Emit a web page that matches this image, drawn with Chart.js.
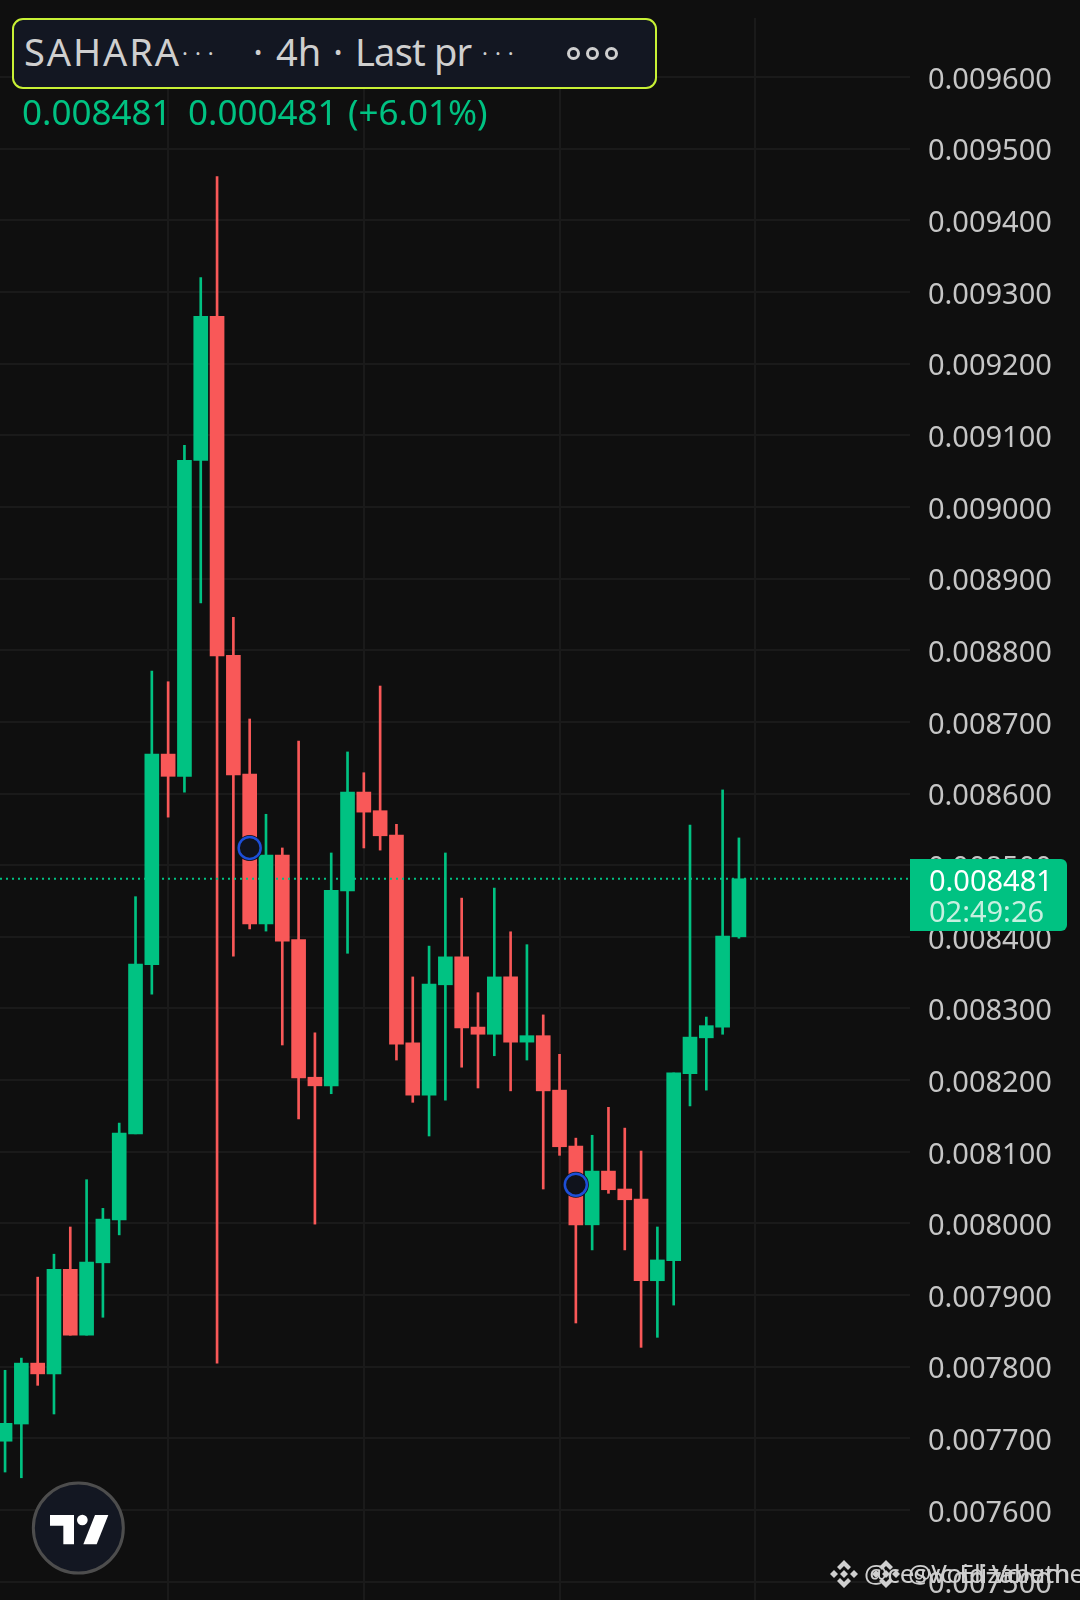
<!DOCTYPE html>
<html>
<head>
<meta charset="utf-8">
<title>SAHARA 4h</title>
<script src="https://cdn.jsdelivr.net/npm/chart.js@4"></script>
<style>
  html, body { margin: 0; padding: 0; background: #0f0f0f; }
  #wrap { position: relative; width: 1080px; height: 1600px; overflow: hidden; font-family: "Noto Sans", sans-serif; }
  #grafico { position: absolute; left: 0; top: 0; }
  .txt { position: absolute; white-space: pre; line-height: 1; }
  #caja { position: absolute; left: 12px; top: 18px; width: 641px; height: 67px; background: #131722; border: 2px solid #c8f135; border-radius: 11px; }
  #etiqueta { position: absolute; left: 910px; top: 859px; width: 157px; height: 72px; background: #00c282; border-radius: 0 6px 6px 0; }
  .punto { position: absolute; width: 7px; height: 7px; border: 3px solid #cfcfcf; border-radius: 50%; top: 47px; }
  #logo { position: absolute; left: 0; top: 1300px; }
  .marca { position: absolute; top: 1559px; }
</style>
</head>
<body>
<div id="wrap">
  <canvas id="grafico" width="1080" height="1600"></canvas>

  <div id="caja"></div>
  <div class="txt" style="left:24px;top:32px;font-size:38px;letter-spacing:1.9px;color:#cfcfcf">SAHARA</div>
  <div class="txt" style="left:182px;top:41px;font-size:22px;letter-spacing:7px;color:#cfcfcf">···</div>
  <div class="txt" style="left:253px;top:32px;font-size:38px;color:#cfcfcf">·</div>
  <div class="txt" style="left:276px;top:32px;font-size:38px;color:#cfcfcf">4h</div>
  <div class="txt" style="left:333px;top:32px;font-size:38px;color:#cfcfcf">·</div>
  <div class="txt" style="left:355px;top:32px;font-size:38px;letter-spacing:-0.8px;color:#cfcfcf">Last pr</div>
  <div class="txt" style="left:482px;top:41px;font-size:22px;letter-spacing:7px;color:#cfcfcf">···</div>
  <div class="punto" style="left:567px"></div>
  <div class="punto" style="left:586px"></div>
  <div class="punto" style="left:605px"></div>

  <div class="txt" style="left:22px;top:94px;font-size:35px;color:#00c282">0.008481</div>
  <div class="txt" style="left:188px;top:94px;font-size:35px;color:#00c282">0.000481</div>
  <div class="txt" style="left:348px;top:94px;font-size:35px;color:#00c282">(+6.01%)</div>

  <div id="etiqueta"></div>
  <div class="txt" style="left:929px;top:865px;font-size:29px;color:#ffffff">0.008481</div>
  <div class="txt" style="left:929px;top:896px;font-size:29px;color:#c6f0e0">02:49:26</div>

  <svg id="logo" width="400" height="300" viewBox="0 0 1200 900">
    <circle cx="235" cy="684" r="135" fill="#131722" stroke="#4d4d4d" stroke-width="9"/>
    <polygon points="150,645 222,645 222,733 190,733 190,677 150,677" fill="#ffffff"/>
    <circle cx="247" cy="660" r="16" fill="#ffffff"/>
    <polygon points="285,645 325,645 290,733 250,733" fill="#ffffff"/>
  </svg>

  <svg class="marca" style="left:830px" width="28" height="30" viewBox="0 0 28 30">
    <g fill="#cfcfcf">
      <polygon points="14,1 21,8 18,11 14,7 10,11 7,8"/>
      <polygon points="14,29 21,22 18,19 14,23 10,19 7,22"/>
      <polygon points="14,11 18,15 14,19 10,15"/>
      <polygon points="4,11 8,15 4,19 0,15"/>
      <polygon points="24,11 28,15 24,19 20,15"/>
    </g>
  </svg>
  <svg class="marca" style="left:872px" width="28" height="30" viewBox="0 0 28 30">
    <g fill="#cfcfcf">
      <polygon points="14,1 21,8 18,11 14,7 10,11 7,8"/>
      <polygon points="14,29 21,22 18,19 14,23 10,19 7,22"/>
      <polygon points="14,11 18,15 14,19 10,15"/>
      <polygon points="4,11 8,15 4,19 0,15"/>
      <polygon points="24,11 28,15 24,19 20,15"/>
    </g>
  </svg>
  <div class="txt" style="left:864px;top:1560px;font-size:26px;color:#cfcfcf">@cesvc Elizabeth</div>
  <div class="txt" style="left:908px;top:1560px;font-size:26px;color:#cfcfcf">@Void Volume</div>
</div>

<script>
// velas de 4h, de izquierda a derecha
const aperturas = [
  0.007696, 0.007720, 0.007805, 0.007790, 0.007936, 0.007844, 0.007945, 0.008005, 0.008125, 0.008361,
  0.008655, 0.008624, 0.009065, 0.009266, 0.008793, 0.008627, 0.008418, 0.008514, 0.008396, 0.008204,
  0.008192, 0.008464, 0.008602, 0.008576, 0.008542, 0.008252, 0.008179, 0.008333, 0.008372, 0.008274,
  0.008264, 0.008344, 0.008253, 0.008262, 0.008186, 0.008108, 0.007998, 0.008073, 0.008048, 0.008034,
  0.007920, 0.007948, 0.008209, 0.008259, 0.008274, 0.008400
];
const maximos = [
  0.007795, 0.007812, 0.007925, 0.007957, 0.007995, 0.008061, 0.008021, 0.008140, 0.008456, 0.008771,
  0.008756, 0.009086, 0.009320, 0.009461, 0.008846, 0.008704, 0.008571, 0.008524, 0.008673, 0.008266,
  0.008517, 0.008658, 0.008629, 0.008750, 0.008557, 0.008344, 0.008387, 0.008517, 0.008454, 0.008322,
  0.008468, 0.008407, 0.008389, 0.008291, 0.008236, 0.008119, 0.008123, 0.008162, 0.008133, 0.008101,
  0.007995, 0.008210, 0.008556, 0.008288, 0.008605, 0.008538
];
const minimos = [
  0.007653, 0.007645, 0.007774, 0.007734, 0.007844, 0.007844, 0.007869, 0.007984, 0.008125, 0.008320,
  0.008567, 0.008602, 0.008866, 0.007805, 0.008373, 0.008411, 0.008408, 0.008249, 0.008146, 0.007999,
  0.008181, 0.008377, 0.008524, 0.008521, 0.008228, 0.008169, 0.008122, 0.008172, 0.008218, 0.008189,
  0.008234, 0.008185, 0.008228, 0.008048, 0.008095, 0.007861, 0.007963, 0.008042, 0.007963, 0.007827,
  0.007841, 0.007886, 0.008164, 0.008186, 0.008264, 0.008398
];
const cierres = [
  0.007721, 0.007805, 0.007790, 0.007936, 0.007844, 0.007946, 0.008006, 0.008126, 0.008362, 0.008655,
  0.008624, 0.009065, 0.009266, 0.008792, 0.008626, 0.008418, 0.008514, 0.008394, 0.008203, 0.008192,
  0.008465, 0.008602, 0.008574, 0.008541, 0.008250, 0.008179, 0.008334, 0.008372, 0.008273, 0.008264,
  0.008344, 0.008253, 0.008262, 0.008185, 0.008107, 0.007998, 0.008073, 0.008047, 0.008033, 0.007920,
  0.007949, 0.008210, 0.008260, 0.008276, 0.008401, 0.008481
];

const ticksPrecio = [
  0.0096, 0.0095, 0.0094, 0.0093, 0.0092, 0.0091, 0.0090, 0.0089, 0.0088, 0.0087, 0.0086,
  0.0085, 0.0084, 0.0083, 0.0082, 0.0081, 0.0080, 0.0079, 0.0078, 0.0077, 0.0076, 0.0075
];
const ticksTiempo = [10, 22, 34, 46];
const ultimoPrecio = 0.008481;
const marcasVela = [15, 35];
const marcasPrecio = [0.008524, 0.008054];

const VERDE = '#00c282';
const ROJO = '#f95858';
const colores = aperturas.map((a, i) => cierres[i] >= a ? VERDE : ROJO);

const mechas = maximos.map((h, i) => ({ x: i, y: [minimos[i], h] }));
const cuerpos = aperturas.map((a, i) => ({ x: i, y: [a, cierres[i]] }));
const marcas = marcasVela.map((v, i) => ({ x: v, y: marcasPrecio[i] }));

new Chart(document.getElementById('grafico'), {
  data: {
    datasets: [
      {
        type: 'line', data: [{ x: -0.31, y: ultimoPrecio }, { x: 55.49, y: ultimoPrecio }],
        borderColor: VERDE, borderWidth: 2, borderDash: [2, 4], pointRadius: 0, order: 2
      },
      {
        type: 'scatter', data: marcas, pointRadius: 11, pointBackgroundColor: '#10131c',
        pointBorderColor: '#1d4fd8', pointBorderWidth: 2.5, order: 0
      },
      {
        type: 'scatter', data: marcas, pointRadius: 13, pointBackgroundColor: '#10131c',
        pointBorderWidth: 0, order: 1
      },
      {
        type: 'bar', data: cuerpos, backgroundColor: colores, barThickness: 14,
        grouped: false, borderWidth: 0, borderSkipped: false, order: 3
      },
      {
        type: 'bar', data: mechas, backgroundColor: colores, barThickness: 2,
        grouped: false, borderWidth: 0, borderSkipped: false, order: 4
      }
    ]
  },
  options: {
    responsive: false,
    animation: false,
    layout: { autoPadding: false, padding: { top: 18 } },
    plugins: { legend: { display: false }, tooltip: { enabled: false } },
    scales: {
      x: {
        type: 'linear',
        offset: false,
        min: -0.31,
        max: 55.49,
        afterBuildTicks: s => { s.ticks = ticksTiempo.map(v => ({ value: v })); },
        afterFit: s => { s.height = 0; s.paddingLeft = 0; s.paddingRight = 0; },
        border: { display: false },
        grid: { offset: false, color: '#1a1a1a', lineWidth: 2, drawTicks: false },
        ticks: { display: false }
      },
      y: {
        position: 'right',
        min: 0.0074744,
        max: 0.00968234,
        afterBuildTicks: s => { s.ticks = ticksPrecio.map(v => ({ value: v })); },
        afterFit: s => { s.width = 170; s.paddingTop = 0; s.paddingBottom = 0; },
        border: { display: false },
        grid: { color: '#1a1a1a', lineWidth: 2, drawTicks: false },
        ticks: {
          padding: 18,
          labelOffset: 3.5,
          color: '#c6c6c6',
          font: { family: '"Noto Sans"', size: 29 },
          callback: v => v.toFixed(6)
        }
      }
    }
  }
});
</script>
</body>
</html>
